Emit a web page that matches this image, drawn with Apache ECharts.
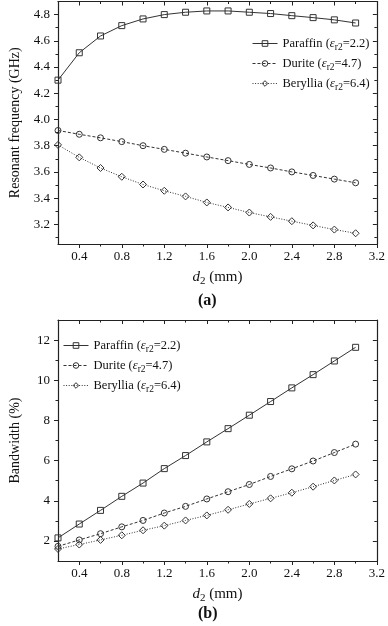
<!DOCTYPE html>
<html>
<head>
<meta charset="utf-8">
<script src="https://cdn.jsdelivr.net/npm/echarts@6/dist/echarts.min.js"></script>
<style>
html,body{margin:0;padding:0;background:#fff;}
#c{width:388px;height:626px;}
</style>
</head>
<body>
<div id="c"></div>
<script>
// ---- data ----
const d2 = [0.2,0.4,0.6,0.8,1.0,1.2,1.4,1.6,1.8,2.0,2.2,2.4,2.6,2.8,3.0];
const seriesNames = ['Paraffin','Durite','Beryllia'];
const epsValues = ['2.2','4.7','6.4'];
const freqParaffin = [4.30,4.509,4.637,4.716,4.767,4.800,4.818,4.828,4.828,4.818,4.808,4.792,4.777,4.760,4.736];
const freqDurite   = [3.916,3.887,3.860,3.831,3.800,3.772,3.743,3.714,3.686,3.657,3.630,3.600,3.573,3.545,3.517];
const freqBeryllia = [3.806,3.711,3.630,3.563,3.504,3.456,3.413,3.367,3.329,3.290,3.257,3.224,3.192,3.160,3.132];
const bwParaffin = [2.15,2.84,3.52,4.22,4.88,5.60,6.25,6.93,7.59,8.26,8.94,9.62,10.28,10.96,11.64];
const bwDurite   = [1.73,2.05,2.36,2.70,3.02,3.39,3.72,4.09,4.45,4.81,5.21,5.59,5.98,6.40,6.82];
const bwBeryllia = [1.60,1.82,2.05,2.28,2.53,2.76,3.02,3.27,3.55,3.84,4.12,4.40,4.70,5.01,5.31];
const xMajorTicks = [0.4,0.8,1.2,1.6,2.0,2.4,2.8,3.2];
const xMinorTicks = [0.6,1.0,1.4,1.8,2.2,2.6,3.0];
const freqMajorTicks = [3.2,3.4,3.6,3.8,4.0,4.2,4.4,4.6,4.8];
const freqMinorTicks = [3.1,3.3,3.5,3.7,3.9,4.1,4.3,4.5,4.7];
const bwMajorTicks = [2,4,6,8,10,12];
const bwMinorTicks = [3,5,7,9,11];

const FONT = 'Liberation Serif';
const INK = '#222';
const LINE = '#333';

function pairs(ys){ return d2.map((x,i)=>[x, ys[i]]); }

const xAxes = [], yAxes = [];
function addAxes(list, grid, dim, min, max, majors, minors, fmt, name, nameGap, nameStyle){
  const far = dim === 'x' ? 'top' : 'right';
  const near = dim === 'x' ? 'bottom' : 'left';
  const base = {type:'value', gridIndex:grid, min:min, max:max, splitLine:{show:false}};
  const lineStyle = {color:INK, width:1.2};
  const idx = list.length;
  list.push(Object.assign({}, base, {
    position: near,
    axisLine:{show:true, onZero:false, lineStyle},
    axisTick:{show:true, inside:false, length:4, customValues:majors, lineStyle:{color:INK,width:1}},
    axisLabel:{show:true, customValues:majors, formatter:fmt, margin: dim==='x'?6:8,
               fontFamily:FONT, fontSize:13, color:'#111'},
    name:name, nameLocation:'middle', nameGap:nameGap, nameRotate: dim==='y'?90:0,
    nameTextStyle:nameStyle
  }));
  list.push(Object.assign({}, base, {
    position: near,
    axisLine:{show:false, onZero:false},
    axisTick:{show:true, inside:false, length:2.5, customValues:minors, lineStyle:{color:INK,width:1}},
    axisLabel:{show:false}
  }));
  list.push(Object.assign({}, base, {
    position: far,
    axisLine:{show:true, onZero:false, lineStyle},
    axisTick:{show:true, inside:true, length:4, customValues:majors, lineStyle:{color:INK,width:1}},
    axisLabel:{show:false}
  }));
  list.push(Object.assign({}, base, {
    position: far,
    axisLine:{show:false, onZero:false},
    axisTick:{show:true, inside:true, length:2.5, customValues:minors, lineStyle:{color:INK,width:1}},
    axisLabel:{show:false}
  }));
  return idx;
}

const xName = '{i|d}{s|2}{n| (mm)}';
const xNameStyle = {fontFamily:FONT, color:'#111', rich:{
  i:{fontFamily:FONT, fontStyle:'italic', fontSize:15, color:'#111'},
  s:{fontFamily:FONT, fontSize:11, color:'#111', padding:[8,0,0,0]},
  n:{fontFamily:FONT, fontSize:15, color:'#111'}
}};
const yNameStyle = {fontFamily:FONT, fontSize:14, color:'#111'};
const f1 = v => v.toFixed(1);
const f0 = v => String(Math.round(v));

const xa0 = addAxes(xAxes, 0, 'x', 0.2, 3.2, xMajorTicks, xMinorTicks, f1, xName, 24, xNameStyle);
const ya0 = addAxes(yAxes, 0, 'y', 3.05, 4.9, freqMajorTicks, freqMinorTicks, f1, 'Resonant frequency (GHz)', 36, yNameStyle);
const xa1 = addAxes(xAxes, 1, 'x', 0.2, 3.2, xMajorTicks, xMinorTicks, f1, xName, 24, xNameStyle);
const ya1 = addAxes(yAxes, 1, 'y', 1, 13, bwMajorTicks, bwMinorTicks, f0, 'Bandwidth (%)', 36, yNameStyle);

const symbols = ['rect','circle','diamond'];
const symbolSizes = [6,6,7];
const dashes = ['solid',[3,2],[1,1.6]];

function makeSeries(xi, yi, datasets){
  return datasets.map((ys, k) => ({
    type:'line', name:seriesNames[k], xAxisIndex:xi, yAxisIndex:yi,
    data:pairs(ys), symbol:symbols[k], symbolSize:symbolSizes[k], showAllSymbol:true,
    lineStyle:{color:LINE, width:1, type:dashes[k]},
    itemStyle:{color:'rgba(255,255,255,0)', borderColor:LINE, borderWidth:1},
    emphasis:{disabled:true}, animation:false
  }));
}

const series = makeSeries(xa0, ya0, [freqParaffin, freqDurite, freqBeryllia])
  .concat(makeSeries(xa1, ya1, [bwParaffin, bwDurite, bwBeryllia]));

function legendFmt(name){
  const k = seriesNames.indexOf(name);
  return '{n|' + name + ' (}{e|ε}{s|r2}{n|=' + epsValues[k] + ')}';
}
const legendRich = {
  n:{fontFamily:FONT, fontSize:12.5, color:'#111'},
  e:{fontFamily:FONT, fontSize:12.5, fontStyle:'italic', color:'#111'},
  s:{fontFamily:FONT, fontSize:9.5, color:'#111', padding:[7,0,0,0]}
};
function makeLegend(left, top){
  return {data:seriesNames, left:left, top:top, orient:'vertical', itemWidth:25, itemHeight:7,
    itemGap:5, formatter:legendFmt, textStyle:{rich:legendRich, fontFamily:FONT, fontSize:12.5},
    lineStyle:{width:1}, itemStyle:{borderWidth:1},
    selectedMode:false, padding:0};
}

const chart = echarts.init(document.getElementById('c'), null, {renderer:'canvas'});
chart.setOption({
  backgroundColor:'#fff',
  animation:false,
  grid:[
    {left:50, width:328, top:1.5, height:242.5},
    {left:50, width:328, top:320, height:241}
  ],
  xAxis:xAxes,
  yAxis:yAxes,
  legend:[makeLegend(252, 37), makeLegend(63, 339)],
  title:[
    {text:'(a)', left:198, top:293, padding:0, textStyle:{fontFamily:FONT, fontSize:16, fontWeight:'bold', color:'#111'}},
    {text:'(b)', left:198, top:606, padding:0, textStyle:{fontFamily:FONT, fontSize:16, fontWeight:'bold', color:'#111'}}
  ],
  series:series
});
</script>
</body>
</html>
